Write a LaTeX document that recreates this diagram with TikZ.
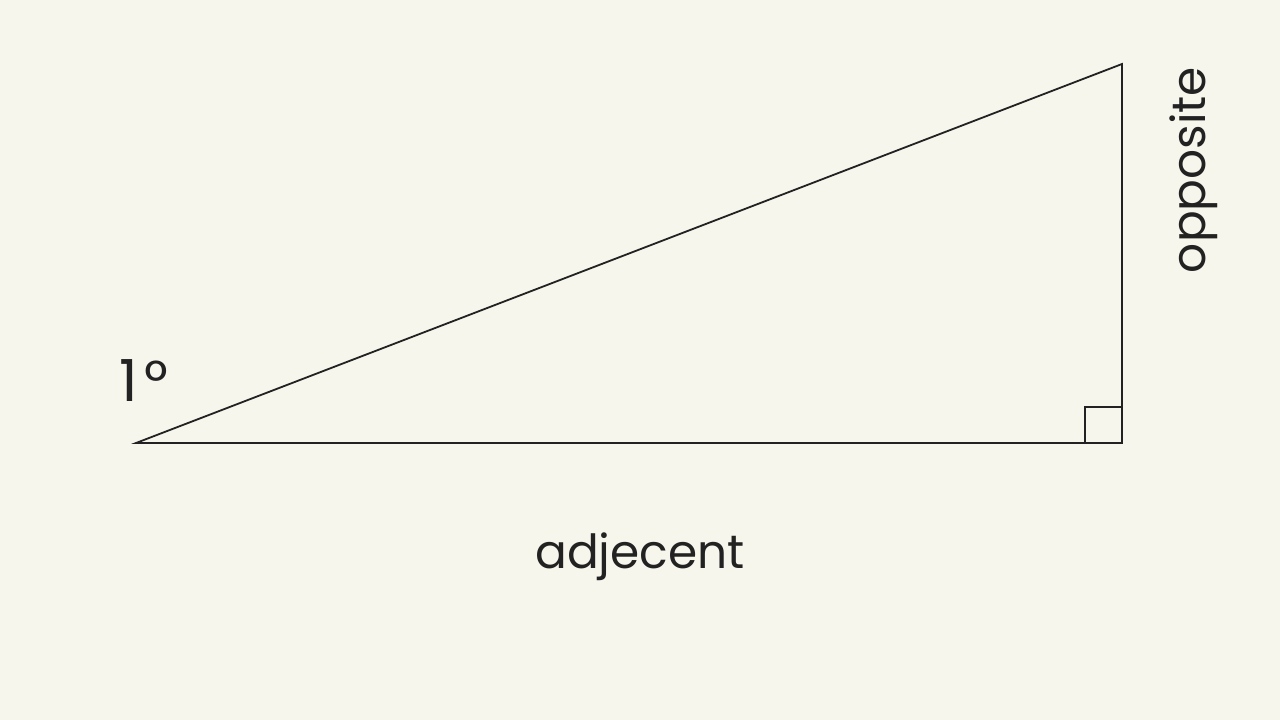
\documentclass[tikz,border=0pt]{standalone}
\usepackage{fontspec}
\setmainfont{Poppins}
\definecolor{bg}{HTML}{F7F6EC}
\definecolor{ink}{HTML}{222222}
\begin{document}
\begin{tikzpicture}[x=1pt,y=-1pt,
  edge/.style={draw=ink,line width=1.8pt,line join=miter},
  lbl/.style={text=ink,inner sep=0pt,font=\fontsize{47}{54}\selectfont}]
\fill[bg] (0,0) rectangle (1280,720);
\useasboundingbox (0,0) rectangle (1280,720);
\coordinate (A) at (136,443);
\coordinate (B) at (1122,443);
\coordinate (C) at (1122,64);
\draw[edge] (A) -- (B) -- (C) -- cycle;
\draw[edge] (1085,443) |- (1122,407);
\node[lbl,anchor=base] (adj) at (640,568) {adjecent};
\node[lbl,anchor=base,rotate=90] (opp) at (1205,170) {opposite};
\node[lbl,anchor=base west,font=\fontsize{58}{64}\selectfont] (ang) at (119,401) {1\kern7pt°};
\end{tikzpicture}
\end{document}
